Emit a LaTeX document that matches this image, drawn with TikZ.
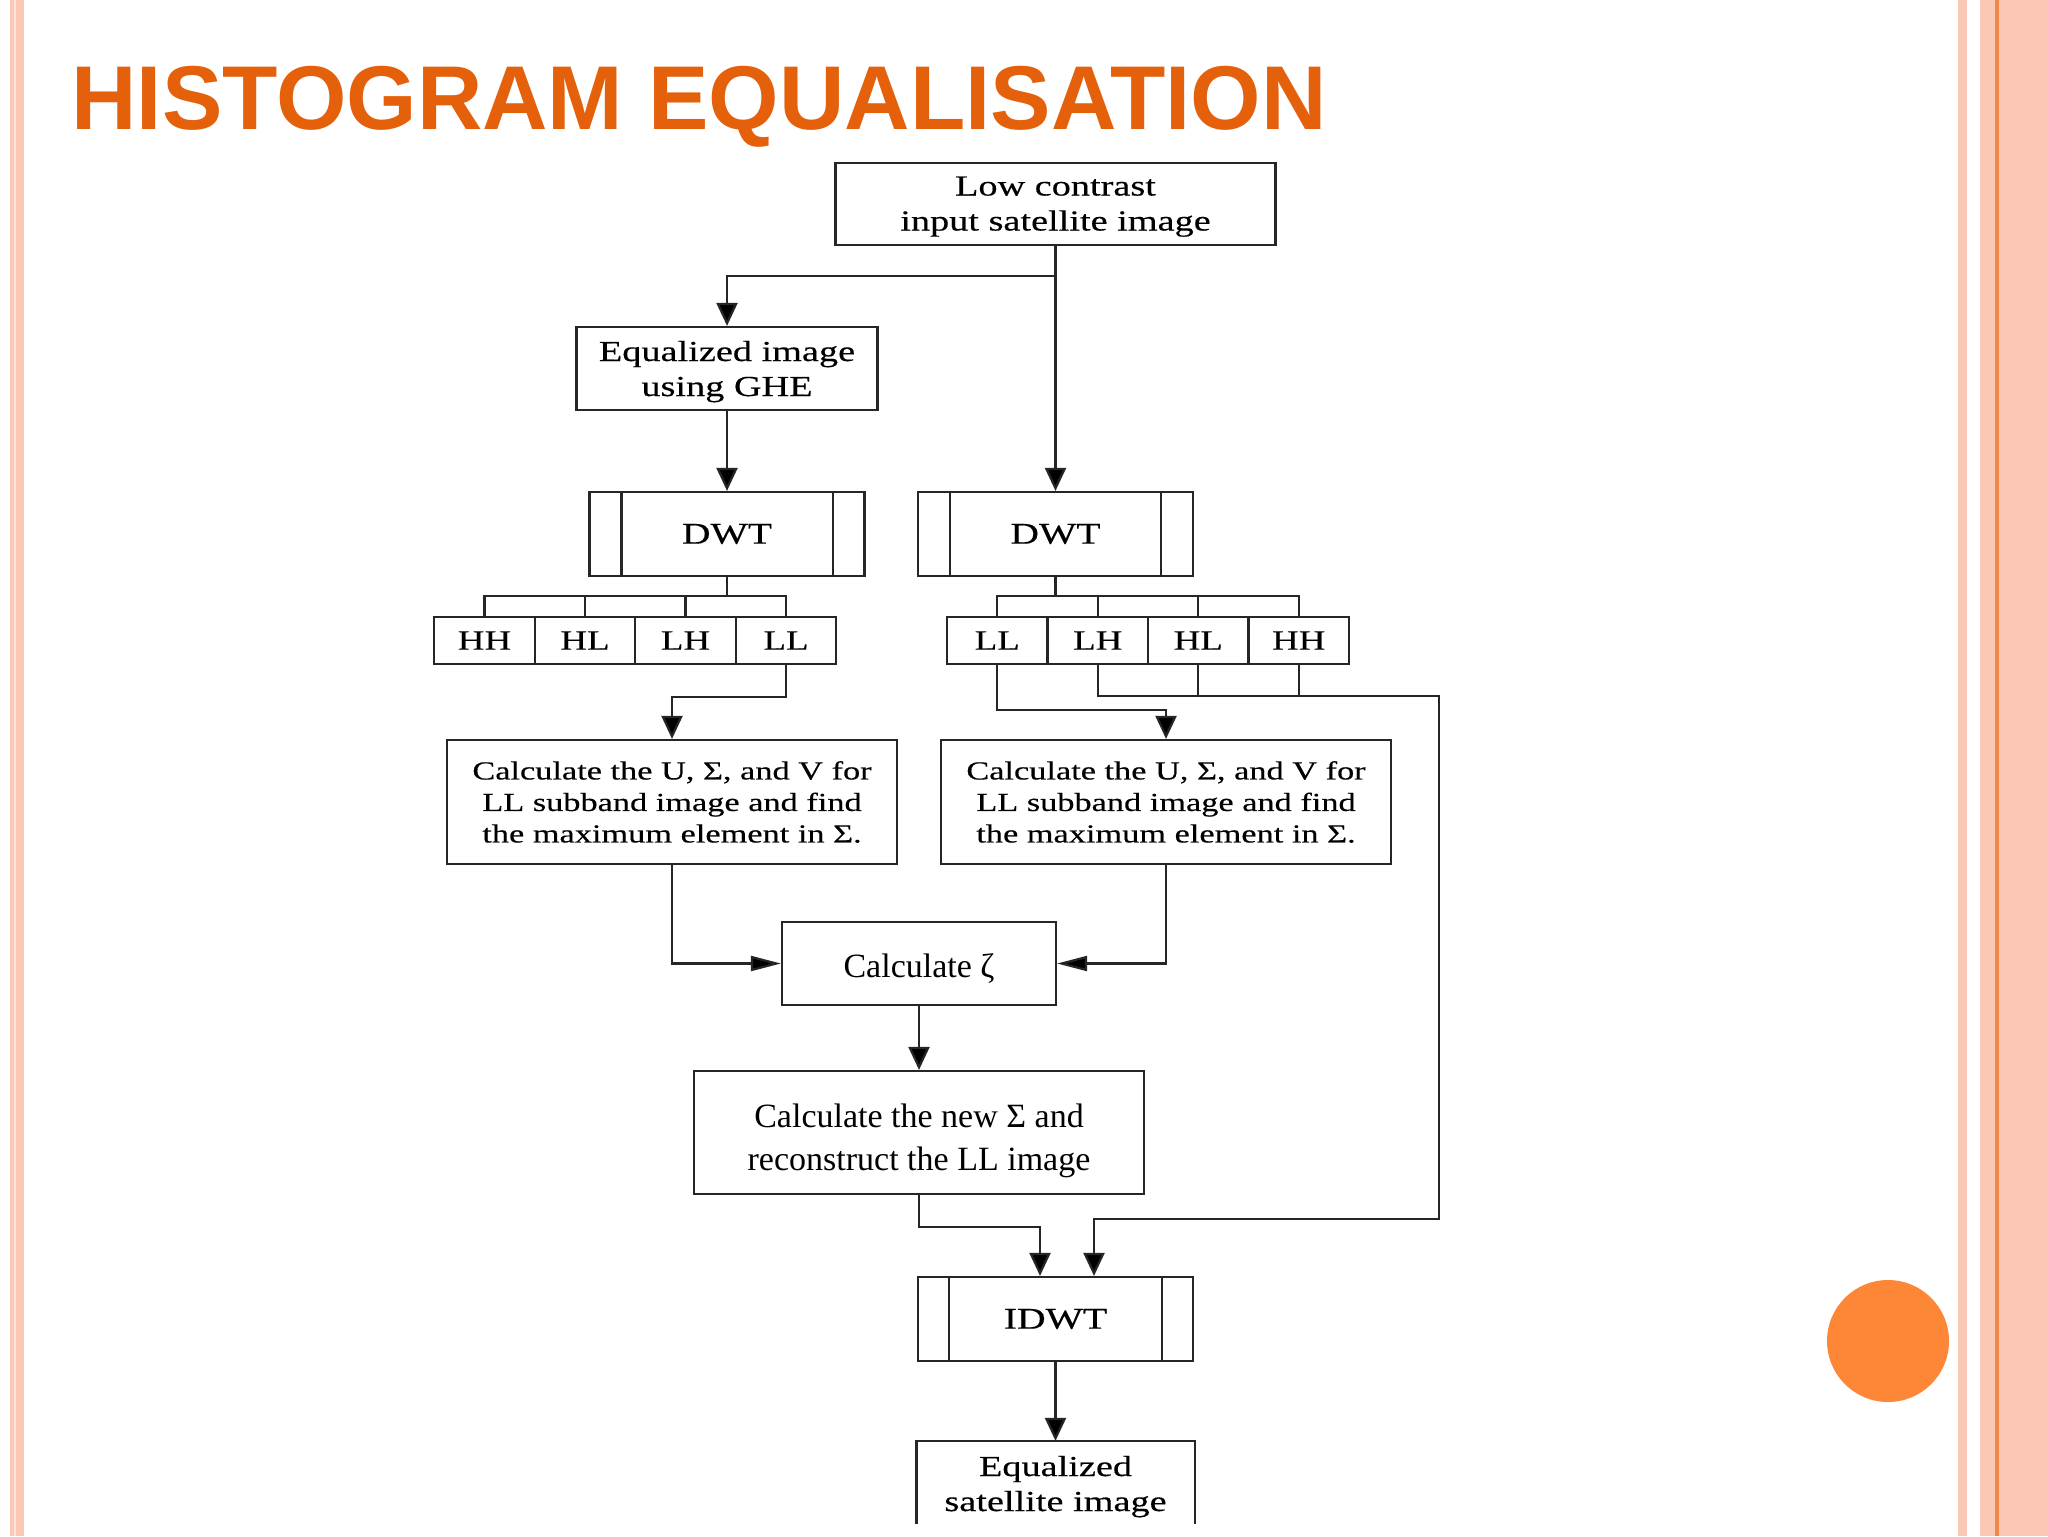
\documentclass[tikz,border=0pt]{standalone}
\usepackage{fontspec}
\setmainfont{Liberation Serif}
\newfontfamily\widefont[FakeStretch=1.32,FakeBold=0.35]{Liberation Serif}
\newfontfamily\titlefont{Liberation Sans}
\usetikzlibrary{arrows.meta}
\definecolor{titleorange}{RGB}{228,96,10}
\definecolor{pale}{RGB}{250,200,181}
\definecolor{paleline}{RGB}{253,228,218}
\definecolor{stripeline}{RGB}{242,135,75}
\definecolor{dot}{RGB}{253,134,55}
\definecolor{ink}{RGB}{38,38,38}
\newcommand{\lowerby}[2]{\raisebox{-#1}[\height][\depth]{#2}}
\begin{document}
\begin{tikzpicture}[x=0.5pt,y=-0.5pt,
  box/.style={draw=ink, line width=1.1pt, fill=white, inner sep=0pt, align=center, text=black,
    font=\widefont\fontsize{14.5}{17.5}\selectfont},
  dwtbox/.style={box, minimum width=137.5pt, minimum height=42pt, font=\widefont\fontsize{15}{18}\selectfont},
  cell/.style={box, minimum width=50.25pt, minimum height=23.5pt, font=\widefont\fontsize{14}{17}\selectfont},
  calcbox/.style={box, minimum width=225pt, minimum height=62pt, font=\widefont\fontsize{13}{15.75}\selectfont},
  plainbox/.style={box, font=\fontsize{17}{21.5}\selectfont},
  conn/.style={draw=ink, line width=1.1pt},
  varr/.style={conn, -{Triangle[length=11.5pt,width=10.5pt,fill=black]}},
  harr/.style={conn, -{Triangle[length=15pt,width=7.5pt,fill=black]}}
]
\useasboundingbox (0,0) rectangle (2048,1536);
\fill[white] (0,0) rectangle (2048,1536);
% slide decoration
\fill[pale] (10,0) rectangle (24,1536);
\fill[paleline] (13.5,0) rectangle (15.5,1536);
\fill[pale] (1958,0) rectangle (1967,1536);
\fill[pale] (1980,0) rectangle (2048,1536);
\fill[stripeline] (1995,0) rectangle (1998.5,1536);
\fill[dot] (1888,1341) circle[radius=30.5pt];
% title
\node[anchor=base west, inner sep=0pt, text=titleorange,
  font=\titlefont\bfseries\fontsize{45.3}{54}\selectfont] (title) at (71,129) {HISTOGRAM EQUALISATION};
% nodes
\node[box, minimum width=220pt, minimum height=41pt] (in) at (1055.5,204) {\lowerby{1pt}{\begin{tabular}{@{}c@{}}Low contrast\\input satellite image\end{tabular}}};
\node[box, minimum width=150.5pt, minimum height=41.5pt] (ghe) at (727,368.5) {\lowerby{1.5pt}{\begin{tabular}{@{}c@{}}Equalized image\\using GHE\end{tabular}}};
\node[dwtbox] (dwtl) at (727,534) {DWT};
\node[dwtbox] (dwtr) at (1055.5,534) {DWT};
\foreach \n in {dwtl,dwtr}{
  \draw[conn] ([xshift=16.5pt]\n.south west) -- ([xshift=16.5pt]\n.north west);
  \draw[conn] ([xshift=-16.5pt]\n.south east) -- ([xshift=-16.5pt]\n.north east);
}
\node[cell] (lHH) at (484.5,640.5) {HH};
\node[cell] (lHL) at (585,640.5) {HL};
\node[cell] (lLH) at (685.5,640.5) {LH};
\node[cell] (lLL) at (786,640.5) {LL};
\node[cell] (rLL) at (997.25,640.5) {LL};
\node[cell] (rLH) at (1097.75,640.5) {LH};
\node[cell] (rHL) at (1198.25,640.5) {HL};
\node[cell] (rHH) at (1298.75,640.5) {HH};
\node[calcbox] (cl) at (672,802) {Calculate the U, Σ, and V for\\LL subband image and find\\the maximum element in Σ.};
\node[calcbox] (cr) at (1166,802) {Calculate the U, Σ, and V for\\LL subband image and find\\the maximum element in Σ.};
\node[plainbox, minimum width=137pt, minimum height=41.5pt] (z) at (919,963.5) {\lowerby{2.5pt}{Calculate ζ}};
\node[plainbox, minimum width=225pt, minimum height=61.5pt] (ns) at (919,1132.5) {\lowerby{4pt}{\begin{tabular}{@{}c@{}}Calculate the new Σ and\\reconstruct the LL image\end{tabular}}};
\node[dwtbox] (idwt) at (1055.5,1319) {IDWT};
\draw[conn] ([xshift=16pt]idwt.south west) -- ([xshift=16pt]idwt.north west);
\draw[conn] ([xshift=-16pt]idwt.south east) -- ([xshift=-16pt]idwt.north east);
\node[box, draw=none, fill=none, minimum width=138pt, minimum height=40.5pt] (out) at (1055.5,1482.5) {\lowerby{2pt}{\begin{tabular}{@{}c@{}}Equalized\\satellite image\end{tabular}}};
\draw[conn] (out.south west) -- (out.north west) -- (out.north east) -- (out.south east);
% connectors
\coordinate (split) at (1055.5,276);
\draw[conn] (in.south) -- (split);
\draw[varr] (split) -| (ghe.north);
\draw[varr] (in.south) -- (dwtr.north);
\draw[varr] (ghe.south) -- (dwtl.north);
\coordinate (lbus) at (727,596);
\coordinate (rbus) at (1055.5,596);
\draw[conn] (dwtl.south) -- (lbus);
\draw[conn] (dwtr.south) -- (rbus);
\draw[conn] (lHH.north) -- (lHH.north |- lbus) -- (lLL.north |- lbus) -- (lLL.north);
\draw[conn] (lHL.north) -- (lHL.north |- lbus);
\draw[conn] (lLH.north) -- (lLH.north |- lbus);
\draw[conn] (rLL.north) -- (rLL.north |- rbus) -- (rHH.north |- rbus) -- (rHH.north);
\draw[conn] (rLH.north) -- (rLH.north |- rbus);
\draw[conn] (rHL.north) -- (rHL.north |- rbus);
\draw[varr] (lLL.south) -- ++(0,32) -| (cl.north);
\draw[varr] (rLL.south) -- ++(0,45) -| (cr.north);
\coordinate (rb) at (1439,696);
\coordinate (rc) at (1439,1219);
\draw[conn] (rHL.south) -- (rHL.south |- rb);
\draw[conn] (rHH.south) -- (rHH.south |- rb);
\draw[varr] (rLH.south) -- (rLH.south |- rb) -- (rb) -- (rc) -| ([xshift=19.25pt]idwt.north);
\draw[harr] (cl.south) |- (z.west);
\draw[harr] (cr.south) |- (z.east);
\draw[varr] (z.south) -- (ns.north);
\draw[varr] (ns.south) -- ++(0,32) -| ([xshift=-7.75pt]idwt.north);
\draw[varr] (idwt.south) -- (out.north);
\end{tikzpicture}
\end{document}
